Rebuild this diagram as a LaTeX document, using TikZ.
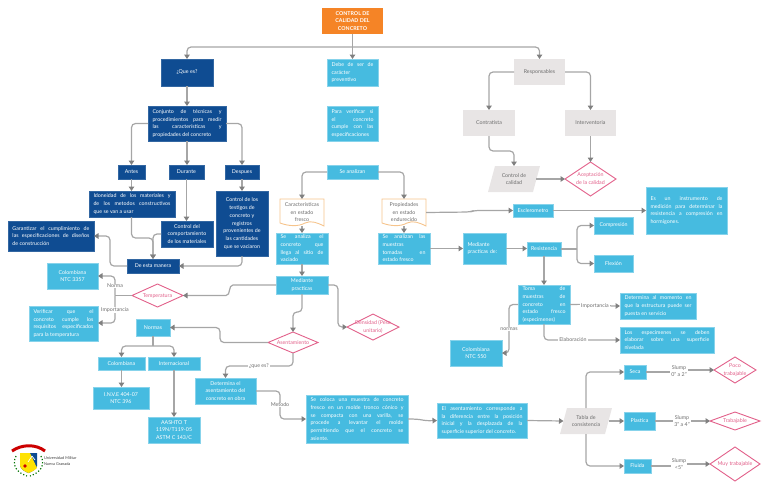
\documentclass[tikz,border=0pt]{standalone}
\usepackage{fontspec}
\setmainfont{Lato}
\usetikzlibrary{arrows.meta,shapes.geometric,calc}
\definecolor{cdark}{HTML}{0F4C92}
\definecolor{clight}{HTML}{46BBE0}
\definecolor{corange}{HTML}{F58426}
\definecolor{cgray}{HTML}{E8E5E5}
\definecolor{cpink}{HTML}{E2608A}
\definecolor{cdoc}{HTML}{F6C48C}
\definecolor{cline}{HTML}{A6A6A6}
\definecolor{ctip}{HTML}{808080}
\definecolor{ctext}{HTML}{6E6E6E}
\tolerance=10000 \hbadness=10000 \hfuzz=20pt
\tikzset{
  every node/.style={font=\fontsize{5.3}{7.7}\selectfont, inner sep=0pt, outer sep=0pt},
  dk/.style={fill=cdark,draw=cdark!85!white,line width=0.4pt,text=white},
  lt/.style={fill=clight,draw=clight!65!white,line width=0.4pt,text=white},
  gr/.style={fill=cgray,text=ctext},
  org/.style={fill=corange,text=white,font=\fontsize{5.3}{7.7}\selectfont\bfseries},
  ctr/.style={align=center},
  just/.style={align=justify},
  diam/.style={diamond,draw=cpink,line width=0.9pt,fill=white,text=cpink,inner sep=0pt},
  conn/.style={draw=cline,line width=1.2pt,rounded corners=4pt,-{Triangle[length=4.5pt,width=5.5pt,color=ctip]}},
  conp/.style={draw=cline,line width=1.2pt,rounded corners=4pt},
  lab/.style={fill=white,text=ctext,align=center,inner xsep=1.2pt,inner ysep=0.5pt},
}
% name, x1, y1, x2, y2, style, text
\newcommand\bx[7]{\node[#6,ctr,minimum width={(#4-#2)*1pt},minimum height={(#5-#3)*1pt}] (#1) at ({(#2+#4)/2},{(#3+#5)/2}) {#7};}
% justified box
\newcommand\jx[7]{\node[#6,just,inner xsep=4.5pt,text width={(#4-#2-9)*1pt},minimum height={(#5-#3)*1pt}] (#1) at ({(#2+#4)/2},{(#3+#5)/2}) {#7};}
% diamond
\newcommand\dm[6]{\pgfmathsetmacro\dmasp{(#4-#2)/(#5-#3)}\node[diam,shape aspect=\dmasp,minimum width={(#4-#2)*1pt},minimum height={(#5-#3)*1pt}] (#1) at ({(#2+#4)/2},{(#3+#5)/2}) {\smash{\makebox[0pt][c]{\raisebox{-1.4pt}{\begin{tabular}{@{}c@{}}#6\end{tabular}}}}};}
% document shape
\newcommand\dc[6]{\draw[fill=white,draw=cdoc,line width=0.9pt] (#2,#3) -- (#4,#3) -- (#4,#5)
  .. controls (#4-6,#5-3) and (#4-13,#5-6) .. (#4-19,#5-3)
  .. controls (#4-26,#5+1) and (#4-36,#5+0) .. (#2,#5-3) -- cycle;
  \node[ctr,text=ctext,minimum width={(#4-#2)*1pt},minimum height={(#5-#3)*1pt}] (#1) at ({(#2+#4)/2},{(#3+#5)/2}) {\raisebox{2pt}{\begin{tabular}{@{}c@{}}#6\end{tabular}}};}
% parallelogram
\newcommand\pg[6]{\fill[cgray] (#2+7,#3) -- (#4,#3) -- (#4-7,#5) -- (#2,#5) -- cycle;
  \node[ctr,text=ctext,minimum width={(#4-#2-7)*1pt},minimum height={(#5-#3)*1pt}] (#1) at ({(#2+#4)/2},{(#3+#5)/2}) {#6};}
\begin{document}
\begin{tikzpicture}[x=1pt,y=-1pt]
\useasboundingbox (0,0) rectangle (768,488);
% boxes
\bx{title}{322}{8}{383}{34}{org}{CONTROL DE\\CALIDAD DEL\\CONCRETO}
\bx{que}{161}{59}{213}{86}{dk}{¿Que es?}
\jx{conj}{148}{106}{226}{141}{dk}{Conjunto de técnicas y\linebreak procedimientos para medir\linebreak las características y\linebreak propiedades del concreto}
\bx{antes}{118}{165}{145}{179}{dk}{Antes}
\bx{durante}{169}{165}{204}{179}{dk}{Durante}
\bx{despues}{225}{165}{259}{179}{dk}{Despues}
\jx{idon}{89}{191}{175}{217}{dk}{Idoneidad de los materiales y\linebreak de los metodos constructivos\linebreak que se van a usar}
\bx{ccomp}{161}{221}{213}{247}{dk}{Control del\\comportamiento\\de los materiales}
\bx{ctest}{216}{191}{268}{256}{dk}{Control de los\\testigos de\\concreto y\\registros\\provenientes de\\las cantidades\\que se vaciaron}
\jx{garant}{8}{221}{94}{251}{dk}{Garantizar el cumplimiento de\linebreak las especificaciones de diseños\linebreak de construcción}
\bx{manera}{127}{259}{179}{273}{dk}{De esta manera}
\bx{col1}{47}{263}{98}{289}{lt}{Colombiana\\NTC 3357}
\dm{temp}{132}{284}{183}{307}{Temperatura}
\jx{verif}{29}{306}{98}{341}{lt}{Verificar que el\linebreak concreto cumple los\linebreak requisitos especificados\linebreak para la temperatura}
\bx{normas}{136}{319}{170}{336}{lt}{Normas}
\bx{col2}{98}{357}{145}{370}{lt}{Colombiana}
\bx{inter}{148}{357}{200}{370}{lt}{Internacional}
\bx{inve}{93}{387}{149}{409}{lt}{I.N.V.E 404-07\\NTC 396}
\bx{aashto}{148}{417}{200}{443}{lt}{AASHTO T\\119N/T119-05\\ASTM C 143/C}
\bx{detasen}{195}{378}{256}{404}{lt}{Determina el\\asentamiento del\\concreto en obra}
\dm{asen}{268}{332}{318}{353}{Asentamiento}
\dm{dens}{347}{314}{399}{340}{Densidad (Peso\\unitario)}
\jx{coloca}{306}{395}{408}{443}{lt}{Se coloca una muestra de concreto\linebreak fresco en un molde tronco cónico y\linebreak se compacta con una varilla, se\linebreak procede a levantar el molde\linebreak permitiendo que el concreto se\linebreak asiente.}
\jx{elasen}{437}{403}{527}{438}{lt}{El asentamiento corresponde a\linebreak la diferencia entre la posición\linebreak inicial y la desplazada de la\linebreak superficie superior del concreto.}
\pg{tabla}{560}{408}{612}{434}{Tabla de\\consistencia}
\bx{seca}{624}{365}{646}{379}{lt}{Seca}
\bx{plast}{624}{412}{655}{430}{lt}{Plastica}
\bx{fluida}{624}{459}{651}{473}{lt}{Fluida}
\dm{poco}{714}{357}{756}{383}{Poco\\trabajable}
\dm{trab}{710}{412}{760}{430}{Trabajable}
\dm{muy}{710}{447}{760}{481}{Muy trabajable}
\jx{debe}{327}{59}{378}{86}{lt}{Debe de ser de\linebreak carácter\linebreak preventivo}
\jx{para}{327}{106}{378}{141}{lt}{Para verificar si\linebreak el concreto\linebreak cumple con las\linebreak especificaciones}
\bx{analizan}{327}{165}{378}{179}{lt}{Se analizan}
\bx{contra}{463}{110}{515}{136}{gr}{Contratista}
\bx{resp}{514}{59}{565}{85}{gr}{Responsables}
\bx{interv}{565}{110}{616}{136}{gr}{Interventoria}
\dm{acept}{565}{162}{616}{196}{Aceptación\\de la calidad}
\pg{ccal}{488}{166}{540}{192}{Control de\\calidad}
\jx{esun}{646}{187}{727}{234}{lt}{Es un instrumento de\linebreak medición para determinar la\linebreak resistencia a compresión en\linebreak hormigones.}
\bx{escl}{513}{204}{553}{217}{lt}{Esclerometro}
\bx{compr}{594}{217}{633}{234}{lt}{Compresión}
\bx{flex}{594}{255}{633}{272}{lt}{Flexión}
\node[lt,align=left,minimum width=43pt,minimum height=31pt,text width=34pt,inner xsep=4.5pt] (medde) at (484.5,248.5) {Mediante\\practicas de:};
\bx{resis}{527}{242}{561}{256}{lt}{Resistencia}
\jx{toma}{518}{285}{570}{324}{lt}{Toma de\linebreak muestras de\linebreak concreto en\linebreak estado fresco\linebreak (especimenes)}
\bx{col3}{450}{340}{502}{366}{lt}{Colombiana\\NTC 550}
\jx{detmom}{620}{293}{696}{319}{lt}{Determina al momento en\linebreak que la estructura puede ser\linebreak puesta en servicio}
\jx{losesp}{620}{327}{714}{353}{lt}{Los especimenes se deben\linebreak elaborar sobre una superficie\linebreak nivelada}
\dc{carac}{280}{199}{324}{226}{Características\\en estado\\fresco}
\dc{prop}{382}{199}{426}{226}{Propiedades\\en estado\\endurecido}
\jx{seanaliza}{276}{233}{328}{264}{lt}{Se analiza el\linebreak concreto que\linebreak llega al sitio de\linebreak vaciado}
\jx{seanalizan}{378}{233}{430}{264}{lt}{Se analizan las\linebreak muestras\linebreak tomadas en\linebreak estado fresco}
\bx{medpr}{276}{276}{328}{294}{lt}{Mediante\\practicas}
% connector free ends
\coordinate (hubtop) at (352.5,47);
\coordinate (mjoin) at (153,238);
\coordinate (tempbend) at (233,285);
\coordinate (tempbend2) at (226,295.5);
\coordinate (aslow) at (220,342.5);
\coordinate (normj) at (153,346);
\coordinate (asmid) at (293,312);
\coordinate (temps) at (115,295.5);
\coordinate (rj) at (577,249);
% connectors
\draw[conn] (title.south) -- (debe.north -| title.south);
\draw[conn] (hubtop) -| (que.north);
\draw[conn] (hubtop) -| (resp.north);
\draw[conn] (que.south) -- (que.south |- conj.north);
\draw[conn] (conj.west) -| (antes.north);
\draw[conn] (conj.south) -- (conj.south |- durante.north);
\draw[conn] (conj.east) -| (despues.north);
\draw[conn] (antes.south) -- (antes.south |- idon.north);
\draw[conn] (durante.south) -- (durante.south |- ccomp.north);
\draw[conn] (despues.south) -- (despues.south |- ctest.north);
\draw[conn] (antes.south |- idon.south) |- (mjoin) -- (manera.north);
\draw[conn] (ccomp.west) -| (manera.north);
\draw[conn] (despues.south |- ctest.south) |- (manera.east);
\draw[conn] (manera.west) -| (110,236) -- (garant.east |- 110,236);
\draw[conn,rounded corners=0pt] (medpr.west |- tempbend) -- (tempbend) .. controls (228,285) and (231,295.5) .. (tempbend2) -- (temp.east);
\draw[conp] (temp.west) -- (temps);
\draw[conn] (temps) |- (col1.east);
\draw[conn] (temps) |- (verif.east |- 0,323);
\draw[conn] (asen.west) -- (aslow) |- (normas.east);
\draw[conp] (normas.south) -- (normj);
\draw[conn] (normj) -| (col2.north);
\draw[conn] (normj) -| (inter.north);
\draw[conn] (col2.south) -- (col2.south |- inve.north);
\draw[conn] (inter.south) -- (inter.south |- aashto.north);
\draw[conn] (medpr.south) |- (asmid) -- (asen.north);
\draw[conn] (medpr.east |- tempbend) -| (338,327) -- (dens.west);
\draw[conn] (asen.south) |- (detasen.north |- 0,366) -- (detasen.north);
\draw[conn] (detasen.east) -| (280,419) -- (coloca.west |- 0,419);
\draw[conn,rounded corners=0pt] (coloca.east |- 0,419) .. controls (425,419) and (420,421) .. (elasen.west);
\draw[conn] (elasen.east) -- (tabla.west);
\draw[conn] (tabla.north) |- (seca.west);
\draw[conn] (tabla.east) -- (plast.west |- tabla.east);
\draw[conn] (tabla.south) |- (fluida.west);
\draw[conn,rounded corners=0pt] (seca.east) -- (679,372) -- (679,370) -- (poco.west);
\draw[conn] (plast.east |- trab.west) -- (trab.west);
\draw[conn,rounded corners=0pt] (fluida.east) -- (679,466) -- (679,464) -- (muy.west);
\draw[conn] (analizan.west) -| (carac.north);
\draw[conn] (analizan.east) -| (prop.north);
\draw[conn] (carac.south) -- (carac.south |- seanaliza.north);
\draw[conn] (prop.south) -- (prop.south |- seanalizan.north);
\draw[conn] (seanaliza.south) -- (seanaliza.south |- medpr.north);
\draw[conn] (seanalizan.east) -- (medde.west);
\draw[conn] (medde.east) -- (medde.east -| resis.west);
\draw[conn] (prop.east) -- (470,212) -- (474,210.5) -- (escl.west);
\draw[conn] (escl.east) -- (esun.west |- escl.east);
\draw[conp] (resis.east) -- (rj);
\draw[conn] (rj) |- (compr.west);
\draw[conn] (rj) |- (flex.west);
\draw[conn] (resis.south) -- (resis.south |- toma.north);
\draw[conn] (toma.west) -| (509,353) -- (col3.east |- 0,353);
\draw[conn] (toma.east) -- (604,304) -- (608,306) -- (detmom.west);
\draw[conn] (toma.south) |- (losesp.west);
\draw[conn] (resp.west) -| (contra.north);
\draw[conn] (resp.east) -| (interv.north);
\draw[conn] (interv.south) -- (interv.south |- acept.north);
\draw[conn] (contra.south) |- (514,151) -- (514,166);
\draw[conn] (536,179) -- (acept.west);
% labels
\node[lab] (lnorma) at (115,286) {Norma};
\node[lab] (limp) at (115,310) {Importancia};
\node[lab] (lque) at (259,366) {¿que es?};
\node[lab] (lmet) at (280,405) {Metodo};
\node[lab] (lnor) at (509,329) {normas};
\node[lab] (limp2) at (595,306) {Importancia};
\node[lab] (lela) at (573,340) {Elaboración};
\node[lab] (ls1) at (679,371) {Slump\\0" a 2"};
\node[lab] (ls2) at (682,421) {Slump\\3" a 4"};
\node[lab] (ls3) at (679,464) {Slump\\\textless 5"};
% logo
\draw[green!45!black,line width=1.2pt,dotted] (16,456) .. controls (12,464) and (15,472) .. (27,476);
\draw[green!45!black,line width=1.2pt,dotted] (41,456) .. controls (45,464) and (42,472) .. (30,476);
\fill[cdark] (20,453) -- (37,453) -- (37,466) .. controls (36,470) and (31,472) .. (28.5,473) .. controls (26,472) and (21,470) .. (20,466) -- cycle;
\fill[yellow!85!orange] (20,453) -- (30,453) -- (37,468) .. controls (34,471) and (31,472) .. (28.5,473) .. controls (26,472) and (21,470) .. (20,466) -- cycle;
\fill[red!80!black] (25,466) circle (1.8);
\draw[white,line width=0.7pt] (32,456) -- (28,462) (32,456) -- (35,460);
\draw[red!80!black,line width=3pt] (12,451) .. controls (22,444) and (36,444) .. (45,451);
\node[text=black!75,font=\fontsize{3.9}{5.6}\selectfont,align=left,anchor=west] (logotext) at (44,461) {Universidad Militar\\Nueva Granada};
\end{tikzpicture}
\end{document}
